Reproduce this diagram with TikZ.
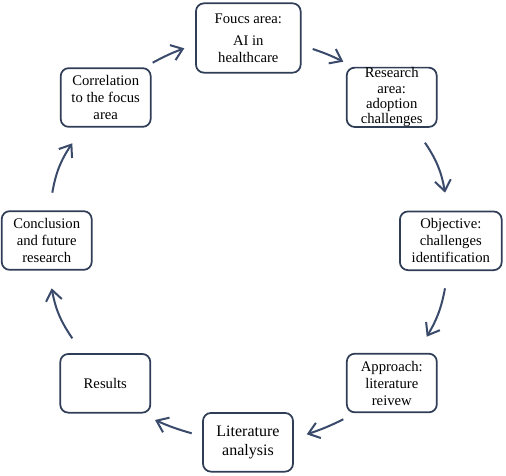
\documentclass[tikz,border=0pt]{standalone}
\usepackage{fontspec}
\setmainfont{Liberation Serif}
\usetikzlibrary{arrows.meta}
\definecolor{boxline}{HTML}{2F3D57}
\definecolor{arrowline}{HTML}{3A4A6B}
\begin{document}
\begin{tikzpicture}[x=0.75pt,y=-0.75pt,
  box/.style={draw=boxline,line width=1.3pt,rounded corners=6pt,align=center,
    inner sep=0pt,minimum width=67.5pt,minimum height=44pt,
    font=\fontsize{11}{12.75}\selectfont},
  link/.style={draw=arrowline,line width=1.5pt,
    -{Straight Barb[length=8pt,width=12pt,line width=1.5pt]}}]
\useasboundingbox (0,0) rectangle (506,475);

\node[box,minimum width=78.5pt,minimum height=52pt] (focus) at (248.3,38)
  {Foucs area:\\[4pt]AI in\\healthcare};
\node[box,font=\fontsize{11}{11.5}\selectfont] (research) at (391.7,97.3)
  {Research\\area:\\adoption\\challenges};
\node[box,minimum width=76.3pt] (objective) at (450.8,240.8)
  {Objective:\\challenges\\identification};
\node[box] (approach) at (391.8,383) {Approach:\\literature\\reivew};
\node[box,font=\fontsize{12}{13.75}\selectfont] (analysis) at (248,442.3)
  {Literature\\analysis};
\node[box] (results) at (105.3,383.3) {Results};
\node[box] (conclusion) at (46.7,240.5) {Conclusion\\and future\\research};
\node[box] (correlation) at (105.7,97.5) {Correlation\\to the focus\\area};

% arrow ends
\coordinate (A1) at (312.7,49);    \coordinate (B1) at (343.3,61.7);
\coordinate (A2) at (425,142.7);   \coordinate (B2) at (445,192.7);
\coordinate (A3) at (445,288.3);   \coordinate (B3) at (426.7,336.7);
\coordinate (A4) at (343.3,419.3); \coordinate (B4) at (306.7,434.3);
\coordinate (A5) at (191.7,433.3); \coordinate (B5) at (155,420);
\coordinate (A6) at (72.3,338.3);  \coordinate (B6) at (51.7,288.3);
\coordinate (A7) at (52.3,192.7);  \coordinate (B7) at (72.3,143.3);
\coordinate (A8) at (152.7,62.7);  \coordinate (B8) at (184.3,48.3);

\draw[link] (A1) to[bend left=4] (B1);
\draw[link] (A2) to[bend left=12] (B2);
\draw[link] (A3) to[bend left=10] (B3);
\draw[link] (A4) to[bend left=4] (B4);
\draw[link] (A5) to[bend left=4] (B5);
\draw[link] (A6) to[bend left=12] (B6);
\draw[link] (A7) to[bend left=12] (B7);
\draw[link] (A8) to[bend left=4] (B8);
\end{tikzpicture}
\end{document}
